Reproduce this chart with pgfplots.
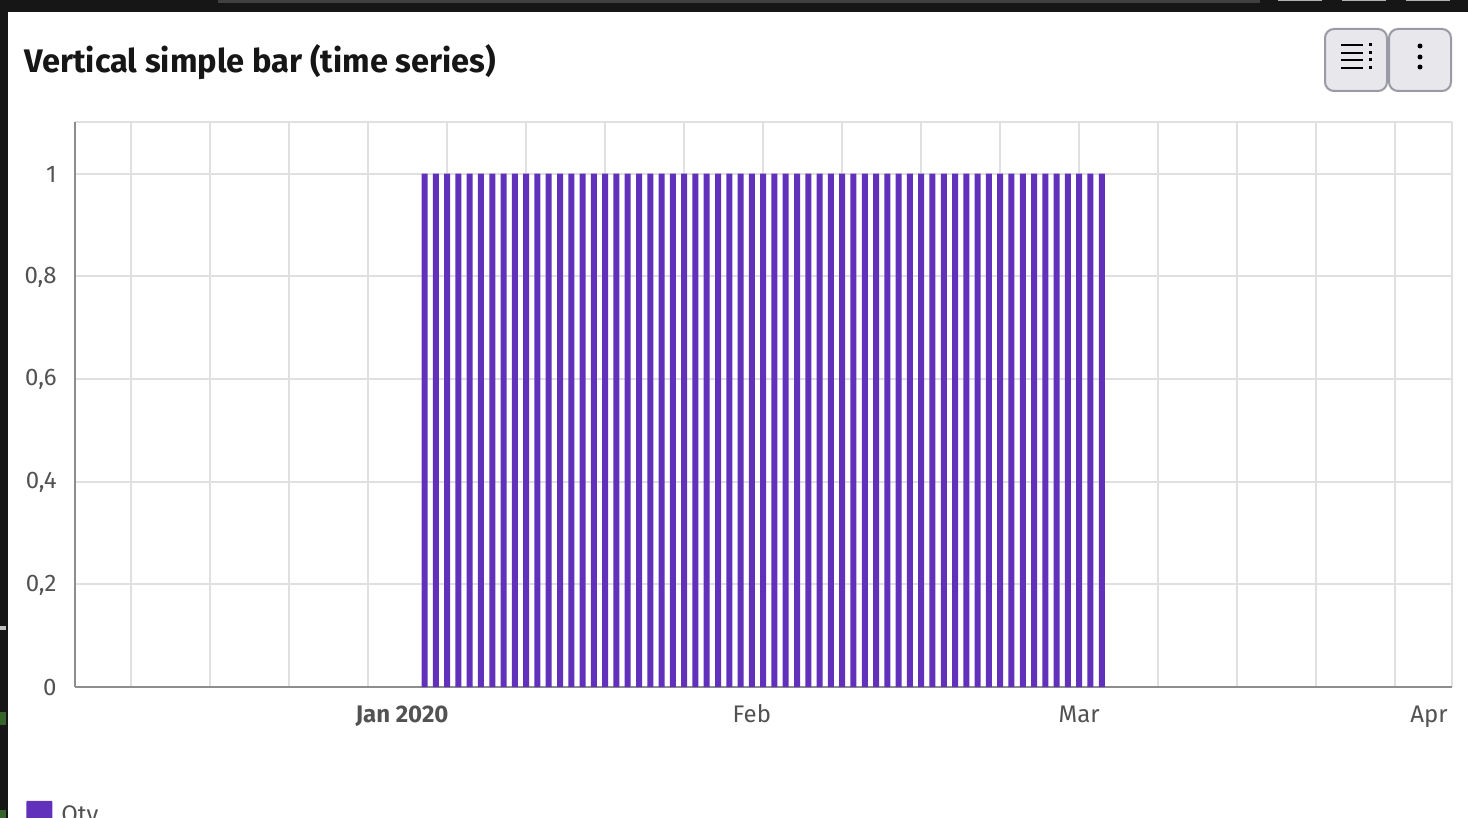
\documentclass[border=0pt]{standalone}
\usepackage{pgfplots}
\pgfplotsset{compat=1.18}
\usepackage{fontspec}
\setmainfont{Fira Sans}
\definecolor{barc}{HTML}{6131BC}
\definecolor{gridc}{HTML}{E0E0E0}
\definecolor{axisc}{HTML}{8D8D8D}
\definecolor{labc}{HTML}{525252}
\definecolor{darkc}{HTML}{161616}
\definecolor{btnf}{HTML}{E8E8EC}
\definecolor{btnd}{HTML}{9A9AA6}
\definecolor{edgeg}{HTML}{35652A}
\begin{document}
\begin{tikzpicture}
\clip (0pt,0pt) rectangle (734pt,-409pt);
\begin{scope}[x=0.5pt,y=-0.5pt]
\fill[white] (0,0) rectangle (1468,818);
% window surroundings
\fill[darkc] (0,0) rectangle (1468,12);
\fill[darkc] (0,0) rectangle (8,818);
\fill[black!75!white] (218,0) rectangle (1260,3);
\fill[gray!60] (1278,0) rectangle (1322,1);
\fill[gray!60] (1342,0) rectangle (1386,1);
\fill[gray!60] (1406,0) rectangle (1450,1);
\fill[gray!50] (0,626) rectangle (6,630);
\fill[edgeg] (0,712) rectangle (6,725);
\fill[edgeg] (0,810) rectangle (6,818);
% title
\node[anchor=west,inner sep=0pt,text=darkc,font=\fontsize{16.3pt}{20pt}\selectfont\bfseries] at (24,62) {Vertical simple bar (time series)};
% buttons
\draw[btnd,fill=btnf,line width=1pt,rounded corners=4.5pt] (1325,29) rectangle (1387,91);
\draw[btnd,fill=btnf,line width=1pt,rounded corners=4.5pt] (1389,29) rectangle (1451,91);
\foreach \yy in {45,53,60,68} {
  \draw[black,line width=1.2pt] (1341,\yy) -- (1363,\yy);
  \fill[black] (1369,\yy-1.5) rectangle (1372,\yy+1.5);
}
\foreach \yy in {46,57,67} { \fill[black] (1420,\yy) circle (2.5); }
\end{scope}
\begin{axis}[
  at={(37.5pt,-343.5pt)}, anchor=south west,
  scale only axis, width=688.5pt, height=282.25pt,
  xmin=-28.97, xmax=93.03, ymin=0, ymax=1.0994,
  axis lines=left, axis line style={axisc,line width=1pt,-},
  grid=major, grid style={gridc,line width=1pt},
  major tick length=0pt,
  xtick={-24,-17,-10,-3,4,11,18,25,32,39,46,53,60,67,74,81,88,93.03},
  xticklabels={},
  extra x ticks={0,31,60,91},
  extra x tick labels={\textbf{Jan 2020},Feb,Mar,Apr},
  extra x tick style={grid=none,major tick length=0pt,
    xticklabel style={text=labc,font=\fontsize{12pt}{14pt}\selectfont,inner sep=0pt,yshift=-9pt,anchor=north,text height=8.3pt,text depth=0pt}},
  ytick={0,0.2,0.4,0.6,0.8,1,1.0994},
  yticklabels={0,{0,2},{0,4},{0,6},{0,8},1,{}},
  yticklabel style={text=labc,font=\fontsize{12pt}{14pt}\selectfont,inner sep=0pt,xshift=-9pt,yshift=-0.4pt},
  legend style={at={(-24.5pt,-56.7pt)},anchor=north west,draw=none,fill=none,inner sep=0pt,
    font=\fontsize{12pt}{14pt}\selectfont,text=labc,
    legend cell align=left},
  legend image code/.code={\fill[barc,rounded corners=0.5pt] (0pt,-5.8pt) rectangle (13pt,7.2pt);},
  clip=false,
]
\addplot[ybar,bar width=3pt,bar shift=0pt,fill=barc,draw=none] coordinates {
(2,1)(3,1)(4,1)(5,1)(6,1)(7,1)(8,1)(9,1)(10,1)(11,1)
(12,1)(13,1)(14,1)(15,1)(16,1)(17,1)(18,1)(19,1)(20,1)(21,1)
(22,1)(23,1)(24,1)(25,1)(26,1)(27,1)(28,1)(29,1)(30,1)(31,1)
(32,1)(33,1)(34,1)(35,1)(36,1)(37,1)(38,1)(39,1)(40,1)(41,1)
(42,1)(43,1)(44,1)(45,1)(46,1)(47,1)(48,1)(49,1)(50,1)(51,1)
(52,1)(53,1)(54,1)(55,1)(56,1)(57,1)(58,1)(59,1)(60,1)(61,1)(62,1)
};
\addlegendentry{\hspace{2.5pt}Qty}
\end{axis}
\end{tikzpicture}
\end{document}
